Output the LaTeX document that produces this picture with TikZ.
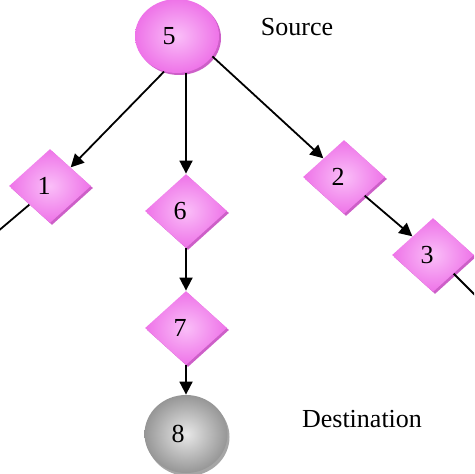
\documentclass[tikz,border=0pt]{standalone}
\usepackage{fontspec}
\setmainfont{Liberation Serif}
\usetikzlibrary{shapes.geometric,shadows,arrows.meta}
\definecolor{pinkfill}{RGB}{238,115,232}
\definecolor{pinklight}{RGB}{250,190,248}
\definecolor{pinkshadow}{RGB}{205,95,200}
\definecolor{grayfill}{RGB}{150,150,150}
\definecolor{graylight}{RGB}{232,232,232}
\tikzset{
  dia/.style={diamond, minimum width=41pt, minimum height=37pt, inner sep=0pt,
    shading=radial, inner color=pinklight, outer color=pinkfill,
    drop shadow={shadow xshift=1pt, shadow yshift=-1pt, fill=pinkshadow, opacity=1},
    execute at end node={\kern6pt}},
  src/.style={ellipse, minimum width=42pt, minimum height=37pt, inner sep=0pt,
    shading=radial, inner color=pinklight, outer color=pinkfill,
    drop shadow={shadow xshift=1pt, shadow yshift=-1pt, fill=pinkshadow, opacity=1},
    execute at end node={\kern8pt}},
  dst/.style={ellipse, minimum width=41.5pt, minimum height=39pt, inner sep=0pt,
    shading=radial, inner color=graylight, outer color=grayfill,
    drop shadow={shadow xshift=1pt, shadow yshift=-1.5pt, fill=gray!70, opacity=1},
    execute at end node={\kern8pt}},
  lbl/.style={inner sep=0pt},
  edge/.style={line width=0.9pt, black},
  arr/.style={edge, -{Triangle[length=6.5pt, width=6.5pt]}}
}

\begin{document}
\begin{tikzpicture}[x=0.5pt, y=-0.5pt, font=\fontsize{13pt}{15pt}\selectfont]
  \useasboundingbox (0,0) rectangle (474,474);
  \clip (0,0) rectangle (474,474);
  % nodes
  \node[src] (5) at (177,36) {5};
  \node[dia] (1) at (50,186) {1};
  \node[dia] (6) at (186,211) {6};
  \node[dia] (2) at (344,177) {2};
  \node[dia] (3) at (433,255) {3};
  \node[dia] (7) at (186,328) {7};
  \node[dst] (8) at (186,434) {8};
  % labels
  \node[lbl] (source) at (297,27) {Source};
  \node[lbl] (dest) at (362,419) {Destination};
  % loose ends
  \coordinate (out1) at (-10,238);
  \coordinate (out3) at (492,312);
  % edges
  \draw[arr] (5.250) -- (1.north east);
  \draw[arr] (5.south -| 6.north) -- (6.north);
  \draw[arr] (5.-30) -- (2.north west);
  \draw[arr] (2.south east) -- (3.north west);
  \draw[arr] (6) -- (7);
  \draw[arr] (7) -- (8);
  \draw[edge] (1.south west) -- (out1);
  \draw[edge] (3.south east) -- (out3);
\end{tikzpicture}
\end{document}
